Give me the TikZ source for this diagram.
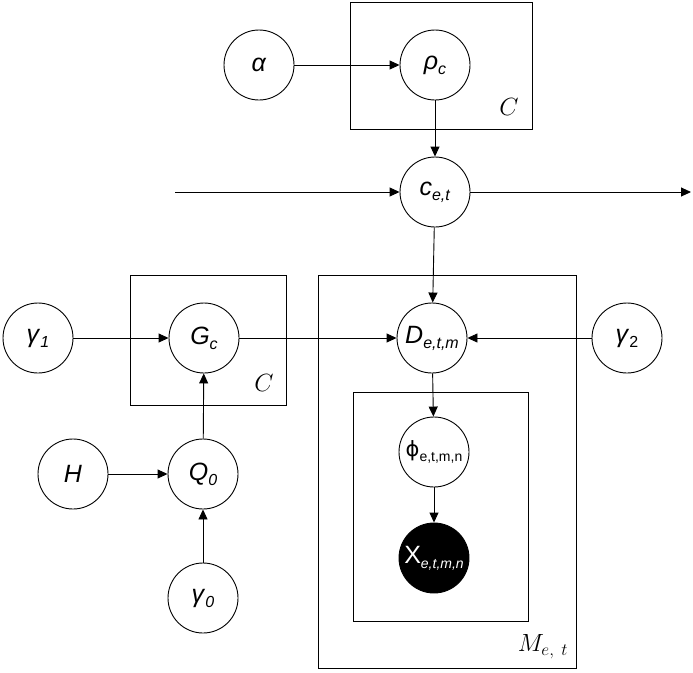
\documentclass[tikz,border=0pt]{standalone}
\usepackage{fontspec}
\setmainfont{Liberation Sans}
\newfontfamily\phifont{DejaVu Sans}
\usetikzlibrary{arrows.meta}
\newcommand{\lowidx}[1]{\raisebox{-5pt}{\fontsize{16}{16}\selectfont #1}}
\newcommand{\smallidx}[1]{\raisebox{-5pt}{\fontsize{14}{14}\selectfont #1}}

\begin{document}
\begin{tikzpicture}[x=1pt,y=-1pt,
	var/.style={draw,circle,minimum size=70pt,inner sep=0pt,line width=0.9pt,fill=white,font=\fontsize{25}{25}\selectfont},
	obs/.style={var,fill=black,text=white},
	arr/.style={-{Triangle[length=10pt,width=9pt]},line width=0.9pt},
	plate/.style={line width=1pt}]
	\useasboundingbox (0,0) rectangle (693,672);
	% plates
	\draw[plate] (350,2) rectangle (532,129);
	\draw[plate] (130,275) rectangle (286,405);
	\draw[plate] (318,275) rectangle (576,668);
	\draw[plate] (353,392) rectangle (528,621);
	\node[font=\fontsize{32}{32}\selectfont] (platetop) at (509,107) {$C$};
	\node[font=\fontsize{32}{32}\selectfont] (plateleft) at (264,383) {$C$};
	\node[font=\fontsize{27}{27}\selectfont] (plateouter) at (543,647) {$M_{e,\ t}$};
	% variables
	\node[var] (alpha) at (259,65) {\textit{α}};
	\node[var] (rho) at (435,65) {\textit{ρ}\lowidx{\textit{c}}};
	\node[var] (cet) at (435,192) {\textit{c}\lowidx{\textit{e,t}}};
	\coordinate (cin) at (175,192);
	\coordinate (cout) at (691,192);
	\node[var] (gamma1) at (38,338) {\textit{γ}\lowidx{\textit{1}}};
	\node[var] (Gc) at (204,338) {\textit{G}\lowidx{\textit{c}}};
	\node[var] (D) at (432,338) {\textit{D}\lowidx{\textit{e,t,m}}};
	\node[var] (gamma2) at (627,338) {\textit{γ}\lowidx{2}};
	\node[var] (H) at (73,474) {\textit{H}};
	\node[var] (Q) at (203,474) {\textit{Q}\lowidx{\textit{0}}};
	\node[var] (gamma0) at (203,598) {\textit{γ}\lowidx{\textit{0}}};
	\node[var] (phi) at (434,452) {{\phifont\fontsize{21}{21}\selectfont ϕ}\smallidx{e,t,m,n}};
	\node[obs] (X) at (434,558) {X\smallidx{\textit{e,t,m,n}}};
	% edges
	\draw[arr] (alpha) -- (rho);
	\draw[arr] (rho) -- (cet);
	\draw[arr] (cin) -- (cet);
	\draw[arr] (cet) -- (cout);
	\draw[arr] (cet) -- (D);
	\draw[arr] (gamma1) -- (Gc);
	\draw[arr] (Gc) -- (D);
	\draw[arr] (gamma2) -- (D);
	\draw[arr] (H) -- (Q);
	\draw[arr] (Q) -- (Gc);
	\draw[arr] (gamma0) -- (Q);
	\draw[arr] (D) -- (phi);
	\draw[arr] (phi) -- (X);
\end{tikzpicture}
\end{document}
